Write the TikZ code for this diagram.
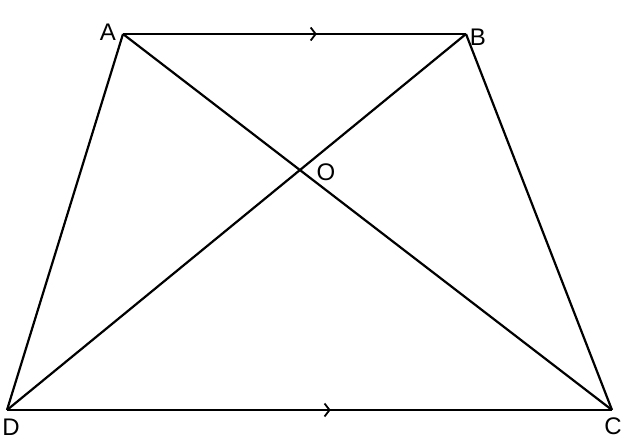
\documentclass[tikz,border=0pt]{standalone}
\usepackage{fontspec}
\setmainfont{Liberation Sans}
\usetikzlibrary{calc,intersections,decorations.markings,arrows.meta}

\begin{document}
\begin{tikzpicture}[x=1pt,y=-1pt,line width=2.2pt,
        vlabel/.style={font=\fontsize{24}{24}\selectfont, inner sep=0pt},
        parmark/.style={postaction={decorate,decoration={markings,
            mark=at position #1 with {\arrow[line width=1.8pt]{Straight Barb[length=5pt,width=13pt]}}}}}]
        \useasboundingbox (0,0) rectangle (630,441);

        % Vertices of the trapezium
        \coordinate (A) at (123,34);
        \coordinate (B) at (466,34);
        \coordinate (C) at (612,410);
        \coordinate (D) at (7,410);

        % Parallel sides with arrow marks
        \draw[parmark=0.565] (A) -- (B);
        \draw[parmark=0.535] (D) -- (C);

        % Other sides
        \draw (B) -- (C);
        \draw (A) -- (D);

        % Diagonals
        \draw[name path=ac] (A) -- (C);
        \draw[name path=bd] (B) -- (D);
        \path[name intersections={of=ac and bd, by=O}];

        % Labels
        \node[vlabel] (labA) at (108,32) {A};
        \node[vlabel] (labB) at (478,37) {B};
        \node[vlabel] (labC) at (613,426) {C};
        \node[vlabel] (labD) at (11,427) {D};
        \node[vlabel] (labO) at ($(O)+(26,2)$) {O};
\end{tikzpicture}
\end{document}
